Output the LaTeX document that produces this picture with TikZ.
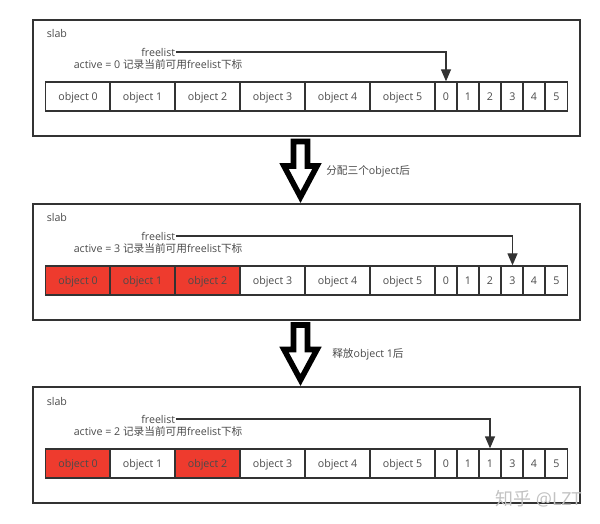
\documentclass[tikz,border=0pt]{standalone}
\usepackage{fontspec}
\setmainfont{Open Sans}
\newfontfamily\cjk{Noto Sans CJK SC}
\usetikzlibrary{arrows.meta}
\definecolor{ln}{HTML}{333333}
\definecolor{tx}{HTML}{4A4A4A}
\definecolor{redc}{HTML}{EE3B2E}
\tikzset{
  x=0.75pt,y=-0.75pt,
  slabbox/.style={draw=ln,line width=1pt,rectangle,minimum width=410.25pt,minimum height=87pt,inner sep=0pt},
  cell/.style={draw=ln,line width=1pt,rectangle,inner sep=0pt,minimum height=21.75pt,text height=6.2pt,text depth=0pt,font=\fontsize{8}{10}\selectfont,text=tx},
  objc/.style={cell,minimum width=48.75pt},
  idxc/.style={cell,minimum width=16.5pt},
  lbl/.style={inner sep=0pt,font=\fontsize{8}{10}\selectfont,text=tx},
  ptr/.style={draw=ln,line width=1pt,-{Triangle[length=9pt,width=7.5pt]}},
  bigarrow/.style={draw=black,line width=4.2pt,fill=white,miter limit=10,line join=miter},
}
\newcommand{\rowcells}[7]{%
  \node[objc,fill=#3] (#1o0) at (78,#2+14.5) {object 0};
  \node[objc,fill=#4] (#1o1) at (142.5,#2+14.5) {object 1};
  \node[objc,fill=#5] (#1o2) at (207.5,#2+14.5) {object 2};
  \node[objc] (#1o3) at (272.5,#2+14.5) {object 3};
  \node[objc] (#1o4) at (337.5,#2+14.5) {object 4};
  \node[objc] (#1o5) at (402.5,#2+14.5) {object 5};
}
\newcommand{\idxcells}[7]{%
  \node[idxc] (#1i0) at (446,#2+14.5) {#3};
  \node[idxc] (#1i1) at (468,#2+14.5) {#4};
  \node[idxc] (#1i2) at (490,#2+14.5) {#5};
  \node[idxc] (#1i3) at (512.5,#2+14.5) {#6};
  \node[idxc] (#1i4) at (534,#2+14.5) {#7};
  \node[idxc] (#1i5) at (556.5,#2+14.5) {5};
}
\begin{document}
\begin{tikzpicture}
\useasboundingbox (0,0) rectangle (600,524);
% slab 1
\node[slabbox] (s1) at (306.5,78) {};
\node[lbl,anchor=west] (s1t) at (46.5,34) {slab};
\node[lbl,anchor=west] (f1) at (141,52) {freelist};
\node[lbl,anchor=west] (a1) at (73.5,64) {active = 0 {\cjk 记录当前可用}freelist{\cjk 下标}};
\rowcells{a}{82}{white}{white}{white}{}{}
\idxcells{a}{82}{0}{1}{2}{3}{4}
\draw[ptr] (f1.east) -| (ai0.north);
% slab 2
\node[slabbox] (s2) at (306.5,262) {};
\node[lbl,anchor=west] (s2t) at (46.5,218) {slab};
\node[lbl,anchor=west] (f2) at (141,236) {freelist};
\node[lbl,anchor=west] (a2) at (73.5,248) {active = 3 {\cjk 记录当前可用}freelist{\cjk 下标}};
\rowcells{b}{266}{redc}{redc}{redc}{}{}
\idxcells{b}{266}{0}{1}{2}{3}{4}
\draw[ptr] (f2.east) -| (bi3.north);
% slab 3
\node[slabbox] (s3) at (306.5,445) {};
\node[lbl,anchor=west] (s3t) at (46.5,401) {slab};
\node[lbl,anchor=west] (f3) at (141,419) {freelist};
\node[lbl,anchor=west] (a3) at (73.5,431) {active = 2 {\cjk 记录当前可用}freelist{\cjk 下标}};
\rowcells{c}{449}{redc}{white}{redc}{}{}
\idxcells{c}{449}{0}{1}{1}{3}{4}
\draw[ptr] (f3.east) -| (ci2.north);
% block arrows
\draw[bigarrow] (293.5,141.5) -- (307.5,141.5) -- (307.5,166) -- (317,166) -- (300.5,197) -- (284,166) -- (293.5,166) -- cycle;
\draw[bigarrow] (293.5,325) -- (307.5,325) -- (307.5,349.5) -- (317,349.5) -- (300.5,380) -- (284,349.5) -- (293.5,349.5) -- cycle;
\node[lbl,anchor=west] (l1) at (326,171) {{\cjk 分配三个}object{\cjk 后}};
\node[lbl,anchor=west] (l2) at (332,354) {{\cjk 释放}object 1{\cjk 后}};
% watermark
\node[inner sep=0pt,anchor=west,text=black!24,font=\fontsize{13.5}{15}\selectfont] (wm) at (495,499) {{\cjk 知乎} @LZT};
\end{tikzpicture}
\end{document}
